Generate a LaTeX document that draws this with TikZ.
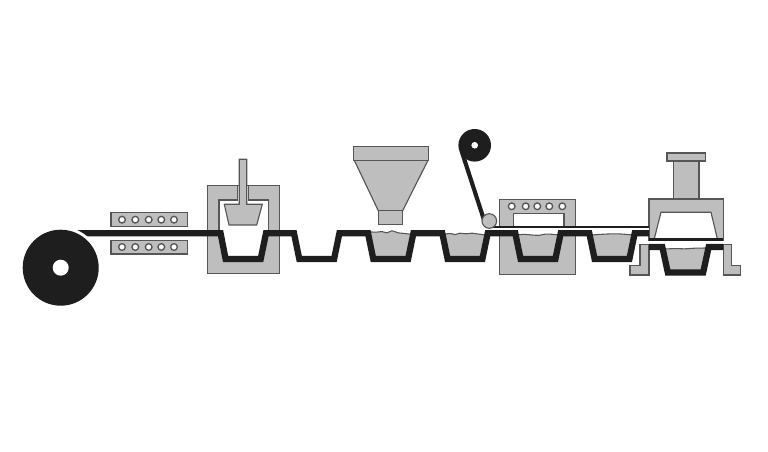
\documentclass[tikz,border=0pt]{standalone}
\definecolor{matgray}{HTML}{BEBEBE}
\definecolor{edgegray}{HTML}{565656}
\definecolor{coilblack}{HTML}{1E1E1E}
\tikzset{
  part/.style={fill=matgray,draw=edgegray,line width=0.85pt,line join=miter},
  cavity/.style={fill=white,draw=edgegray,line width=0.85pt},
  hole/.style={circle,fill=white,draw=edgegray,line width=1pt,minimum size=5pt,inner sep=0pt},
  strip/.style={draw=coilblack,line width=4.7pt,line join=miter},
  film/.style={draw=coilblack,line width=2.1pt},
  wave/.style={draw=edgegray,line width=0.8pt},
}
\newcommand{\filled}[3]{%
  \fill[matgray] plot[smooth] coordinates {#1} -- #2 -- #3 -- cycle;
  \draw[wave] plot[smooth] coordinates {#1};
}
\begin{document}
\begin{tikzpicture}[x=0.75pt,y=-0.75pt]
\useasboundingbox (0,0) rectangle (768,452);
% heaters
\draw[part] (111,212.7) rectangle (187.7,226.3);
\draw[part] (111,240.3) rectangle (187.7,254);
\foreach \x/\n in {122/a,135.3/b,148.7/c,161.3/d,174/e}{
  \node[hole] (up\n) at (\x,219.7) {};
  \node[hole] (lo\n) at (\x,247) {};
}
% forming mould
\draw[part] (207.3,185.7) rectangle (279.7,273.7);
\fill[white] (219,200) rectangle (268.3,234);
\fill[white] (222.5,232) -- (228,258) -- (258,258) -- (264,232) -- cycle;
\fill[white] (237.7,185.7) rectangle (248.7,201);
\draw[edgegray,line width=0.85pt] (219,234) -- (219,200) -- (237.7,200) -- (237.7,185.7)
  (248.7,185.7) -- (248.7,200) -- (268.3,200) -- (268.3,234);
\draw[part] (239.3,159.3) -- (246.7,159.3) -- (246.7,204.3) -- (262.3,204.3) -- (256.7,225) -- (229,225) -- (224.3,204.3) -- (239.3,204.3) -- cycle;
% hopper
\draw[part] (354.3,160.3) -- (428,160.3) -- (402.7,210.7) -- (378.3,210.7) -- cycle;
\draw[part] (353.7,146.7) rectangle (428.7,160.3);
\draw[part] (378.3,210.7) rectangle (402.7,224.7);
% sealing mould
\draw[part] (499.7,199.3) rectangle (575.7,274.7);
\draw[cavity] (513.7,226) -- (513.7,213.3) -- (564,213.3) -- (564,226);
\foreach \x/\n in {511.7/f,525.7/g,537.3/h,549.3/i,562.3/j}{
  \node[hole] (hs\n) at (\x,206.3) {};
}
% press
\draw[part] (667,153) rectangle (705.3,161);
\draw[part] (673.7,161) rectangle (699,199);
\draw[part] (649,199) rectangle (723.3,240);
\fill[white] (661,212.3) -- (711,212.3) -- (717.3,238.7) -- (654.3,238.7) -- cycle;
\draw[edgegray,line width=0.85pt] (654.3,238.7) -- (661,212.3) -- (711,212.3) -- (717.3,238.7);
\draw[part] (640,244.3) -- (649,244.3) -- (649,275) -- (630,275) -- (630,265.7) -- (640,265.7) -- cycle;
\draw[part] (723.3,244.3) -- (731.7,244.3) -- (731.7,265.7) -- (740.7,265.7) -- (740.7,275) -- (723.3,275) -- cycle;
% white openings over the mould strip
\fill[white] (493,228) rectangle (649,231);
\fill[white] (517.5,228) rectangle (559,236);
\fill[white] (591.5,228) rectangle (632.5,236);
\fill[white] (664,241) rectangle (707,250);
% fillings
\filled{(369,231.8) (376,232.2) (382,231.6) (387,232.8) (392,230.8) (398,232.8) (404,233.4) (411,234.3)}{(407,258)}{(374,258)}
\filled{(444.5,234) (451,233.6) (455,234.6) (460,233.2) (466,233.8) (472,233.2) (478,234) (485,235)}{(481,258)}{(448,258)}
\filled{(518,234.8) (525,234.4) (532,235) (539,235.3) (545,234.2) (551,234.2) (559,235)}{(555,258)}{(522,258)}
\filled{(592,235) (600,234.4) (608,234) (616,233.8) (624,234.2) (633,235)}{(629,258)}{(596,258)}
\filled{(665,249) (675,248.6) (685,248.8) (695,248.2) (706,248)}{(702,271)}{(669,271)}
% formed strip
\coordinate (stripstart) at (70,233.3);
\coordinate (stripend) at (649,233.3);
\draw[strip] (stripstart)
  -- (220.6,233.3) -- (225.6,259) -- (260.7,259) -- (266,233.3)
  -- (294,233.3) -- (299.3,259) -- (334.1,259) -- (339.4,233.3)
  -- (368,233.3) -- (373.3,259) -- (408.1,259) -- (413.4,233.3)
  -- (442.3,233.3) -- (447.6,259) -- (482.4,259) -- (487.7,233.3)
  -- (515.3,233.3) -- (520.6,259) -- (555.4,259) -- (560.7,233.3)
  -- (589.3,233.3) -- (594.6,259) -- (629.4,259) -- (634.7,233.3)
  -- (stripend);
\draw[strip] (649,246.9) -- (662.3,246.9) -- (667.8,272.4) -- (703.2,272.4) -- (708.7,246.9) -- (723.3,246.9);
% supply coil with white halo
\fill[white] (60.7,267.7) circle (41);
\fill[coilblack] (60.7,267.7) circle (38);
\fill[white] (60.7,267.7) circle (8);
% film coil, roller and film
\coordinate (filmend) at (649,227);
\draw[strip,line width=3.1pt] (461.8,151.7) -- (484.6,221.7);
\fill[coilblack] (474.7,145.3) circle (16.3);
\fill[white] (474.7,145.3) circle (3.3);
\draw[film] (489,227) -- (filmend);
\draw[part] (489.3,221) circle (7.3);
\draw[film] (649,239.7) -- (723.3,239.7);
\end{tikzpicture}
\end{document}
